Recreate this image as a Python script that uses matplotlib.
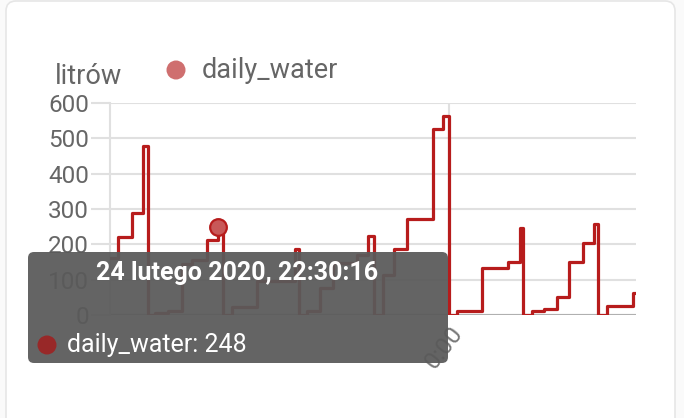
import numpy as np
import matplotlib
matplotlib.use('Agg')
import matplotlib.pyplot as plt
from matplotlib.patches import FancyBboxPatch, Circle

plt.rcParams['font.family'] = ['Roboto', 'DejaVu Sans']

# step start times (hours since start of the 7 day window) and values in litres
hours = [0.0, 2.4, 6.9, 10.7, 12.2, 14.4, 18.6, 23.0, 26.2, 30.9, 34.4, 36.3,
         38.9, 47.0, 59.3, 60.5, 62.9, 67.2, 71.5, 78.9, 82.7, 84.5, 87.5,
         90.9, 95.1, 103.2, 106.6, 108.5, 111.1, 119.1, 127.2, 131.2, 132.2,
         135.1, 138.9, 143.1, 146.9, 151.4, 154.8, 156.2, 159.1, 167.4, 168.3]
litres = [160, 220, 290, 478, 0, 5, 10, 143, 156, 211, 248, 0,
          22, 95, 187, 0, 10, 76, 147, 170, 224, 0, 114,
          187, 272, 527, 562, 0, 10, 133, 149, 246, 0,
          10, 16, 52, 149, 204, 258, 0, 25, 63, 63]

y_ticks = [0, 100, 200, 300, 400, 500, 600]
x_tick_hours = [108.5]
x_tick_labels = ['0:00']

hover_hour = 34.4
hover_value = 248
hover_title = '24 lutego 2020, 22:30:16'
series_name = 'daily_water'
unit = 'litrów'

line_col = '#b71c1c'
W, H = 684, 418

fig = plt.figure(figsize=(W / 100, H / 100), dpi=100)
fig.patch.set_facecolor('#fafafa')

# card background
bg = fig.add_axes([0, 0, 1, 1], zorder=0)
bg.set_xlim(0, W)
bg.set_ylim(H, 0)
bg.axis('off')
bg.add_patch(FancyBboxPatch((6, 1), 669, 440, boxstyle='round,pad=0,rounding_size=10',
                            fc='white', ec='#e6e6e6', lw=1.2))

# chart
ax = fig.add_axes([110 / W, (H - 315) / H, 526 / W, 212 / H], zorder=1)
ax.patch.set_alpha(0)
ax.step(hours, litres, where='post', color=line_col, lw=2.3, zorder=3)
ax.plot([hover_hour], [hover_value], 'o', ms=12, mfc='#c85858', mec=line_col, mew=1.6, zorder=4)
ax.set_xlim(0, 168.3)
ax.set_ylim(0, 600)
ax.set_yticks(y_ticks)
ax.set_xticks(x_tick_hours)
ax.set_xticklabels(x_tick_labels, rotation=52, ha='right', va='top', rotation_mode='anchor')
ax.grid(True, color='#e0e0e0', lw=1.5, zorder=1)
ax.axhline(0, color='#b0b0b0', lw=1.5, zorder=2)
for s in ['top', 'right', 'bottom']:
    ax.spines[s].set_visible(False)
ax.spines['left'].set_color('#e0e0e0')
ax.spines['left'].set_linewidth(1.5)
ax.tick_params(axis='y', length=14, width=1.5, color='#e0e0e0', labelcolor='#666666',
               labelsize=17.5, pad=1)
ax.tick_params(axis='x', length=0, labelcolor='#777777', labelsize=17.5, pad=5)

# overlay: axis title, legend, tooltip
ov = fig.add_axes([0, 0, 1, 1], zorder=5)
ov.set_xlim(0, W)
ov.set_ylim(H, 0)
ov.axis('off')
ov.patch.set_alpha(0)
ov.text(55, 77, unit, fontsize=19.5, color='#666666', ha='left', va='center')
ov.add_patch(Circle((176, 70), 9.5, fc='#cf6f6f', ec='none'))
ov.text(202, 70, series_name, fontsize=19.5, color='#666666', ha='left', va='center')

ov.add_patch(FancyBboxPatch((28, 252), 420, 111, boxstyle='round,pad=0,rounding_size=6',
                            fc='#5a5a5a', ec='none', alpha=0.94))
ov.text(237, 273, hover_title, fontsize=18, color='white', fontweight='bold',
        ha='center', va='center')
ov.add_patch(Circle((47, 345), 9.5, fc='#982828', ec='none'))
ov.text(67, 345, f'{series_name}: {hover_value}', fontsize=18, color='white',
        ha='left', va='center')

fig.savefig('out.png', dpi=100, facecolor=fig.get_facecolor())
